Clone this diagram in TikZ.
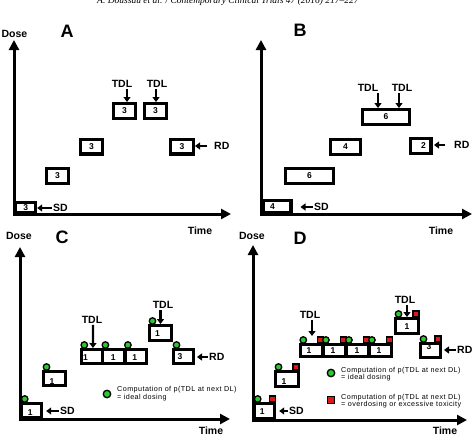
\documentclass[tikz,border=0pt]{standalone}
\usepackage{fontspec}
\setmainfont{Liberation Sans}
\newfontfamily\hdrfont{Liberation Serif}
\newfontfamily\lgdfont[LetterSpace=6]{Liberation Sans}
\usetikzlibrary{arrows.meta}
\definecolor{dlgreen}{RGB}{45,200,45}
\definecolor{dlred}{RGB}{220,25,25}
\tikzset{
 axes/.style={line width=3pt,{Triangle[width=10pt,length=10pt]}-{Triangle[width=10pt,length=10pt]}},
 ptr/.style={line width=2.2pt,-{Triangle[width=7pt,length=5pt]}},
 cohort/.style 2 args={draw,line width=3.2pt,fill=white,inner sep=0pt,
  minimum width=#1,minimum height=#2,font=\bfseries\fontsize{8.5}{8.5}\selectfont},
 num/.style={inner sep=0pt,font=\bfseries\fontsize{8.5}{8.5}\selectfont},
 tag/.style={inner sep=1pt,font=\bfseries\fontsize{10.5}{10.5}\selectfont},
 ttl/.style={inner sep=0pt,font=\bfseries\fontsize{18}{18}\selectfont},
 gdot/.style={circle,draw,line width=1.3pt,fill=dlgreen,inner sep=0pt,minimum size=6.5pt},
 rsq/.style={draw,line width=1.3pt,fill=dlred,inner sep=0pt,minimum size=6pt},
 lgd/.style={anchor=west,inner sep=0pt,align=left,font=\lgdfont\fontsize{7.2}{7.5}\selectfont},
 hdr/.style={inner sep=0pt,font=\hdrfont\itshape\fontsize{9.5}{9.5}\selectfont}
}
\begin{document}
\begin{tikzpicture}[x=1pt,y=-1pt,line join=miter]
 \useasboundingbox (0,0) rectangle (474,439);
 \node[hdr,anchor=base west] (hdr) at (97,4) {A. Doussau et al. / Contemporary Clinical Trials 47 (2016) 217–227};
 % panel A
 \coordinate (oA) at (14,214); \coordinate (yA) at (14,40); \coordinate (xA) at (231,214);
 \draw[axes] (yA) -- (oA) -- (xA);
 \node[ttl] (pA) at (67,31) {A};
 \node[tag] (doseA) at (14.5,34) {Dose};
 \node[tag] (timeA) at (200,231) {Time};
 \node[cohort={19.8pt}{10pt}] (a1) at (25.7,207.5) {3};
 \node[cohort={21.8pt}{14.8pt}] (a2) at (57.5,176) {3};
 \node[cohort={21.8pt}{14.8pt}] (a3) at (91.5,146.5) {3};
 \node[cohort={21.8pt}{14.8pt}] (a4) at (124.5,111) {3};
 \node[cohort={21.8pt}{14.8pt}] (a5) at (155.5,111) {3};
 \node[cohort={22.8pt}{14.8pt}] (a6) at (182,146.5) {3};
 \node[tag] (tdlA1) at (122,84) {TDL};
 \node[tag] (tdlA2) at (157,84) {TDL};
 \draw[ptr] ([xshift=5pt]tdlA1.south) -- ([xshift=2.5pt]a4.north);
 \draw[ptr] ([xshift=-1pt]tdlA2.south) -- ([xshift=0.5pt]a5.north);
 \node[tag,anchor=west] (sdA) at (52,208) {SD};
 \draw[ptr] (sdA.west) -- (sdA.west -| a1.east);
 \node[tag,anchor=west] (rdA) at (213,146) {RD};
 \draw[ptr,shorten <=6pt] (rdA.west) -- (rdA.west -| a6.east);
 % panel B
 \coordinate (oB) at (261,214); \coordinate (yB) at (261,40); \coordinate (xB) at (472,214);
 \draw[axes] (yB) -- (oB) -- (xB);
 \node[ttl] (pB) at (300,30) {B};
 \node[tag] (timeB) at (441,231) {Time};
 \node[cohort={27.8pt}{12pt}] (b1) at (277,206.5) {};
 \node[num] (nb1) at ([xshift=-4.5pt]b1.center) {4};
 \node[cohort={47.8pt}{14.8pt}] (b2) at (309.5,176) {6};
 \node[cohort={29.8pt}{14.8pt}] (b3) at (345.5,147) {4};
 \node[cohort={46.8pt}{14.8pt}] (b4) at (386,117) {6};
 \node[cohort={20.8pt}{14.8pt}] (b5) at (420.5,146) {};
 \node[num] (nb5) at ([xshift=3pt]b5.center) {2};
 \node[tag] (tdlB1) at (368,88) {TDL};
 \node[tag] (tdlB2) at (402,88) {TDL};
 \draw[ptr] ([xshift=10pt]tdlB1.south) -- ([xshift=-8pt]b4.north);
 \draw[ptr] ([xshift=-3pt]tdlB2.south) -- ([xshift=13pt]b4.north);
 \node[tag,anchor=west] (sdB) at (313,207) {SD};
 \draw[ptr,shorten >=8pt] (sdB.west) -- (sdB.west -| b1.east);
 \node[tag,anchor=west] (rdB) at (453,145) {RD};
 \draw[ptr,shorten <=8pt,shorten >=1.5pt] (rdB.west) -- (rdB.west -| b5.east);
 % panel C
 \coordinate (oC) at (20,419); \coordinate (yC) at (20,247); \coordinate (xC) at (230,419);
 \draw[axes] (yC) -- (oC) -- (xC);
 \node[ttl] (pC) at (62,237) {C};
 \node[tag] (doseC) at (19,236) {Dose};
 \node[tag] (timeC) at (211,431) {Time};
 \node[cohort={19.8pt}{13.8pt}] (c1) at (31.7,410.5) {};
 \node[cohort={21.8pt}{13.8pt}] (c2) at (54.5,378.5) {};
 \node[cohort={21.1pt}{13.8pt}] (c3) at (91.95,356.5) {};
 \node[cohort={22.5pt}{13.8pt}] (c4) at (113.75,356.5) {};
 \node[cohort={21.6pt}{13.8pt}] (c5) at (135.8,356.5) {};
 \node[cohort={21.8pt}{14.8pt}] (c6) at (160.5,333) {};
 \node[cohort={19.8pt}{13.8pt}] (c7) at (183.5,356.5) {};
 \node[num] (nc1) at ([xshift=-1.5pt,yshift=-2pt]c1.center) {1};
 \node[num] (nc2) at ([xshift=-2.5pt,yshift=-3pt]c2.center) {1};
 \node[num] (nc3) at ([xshift=-6.5pt,yshift=-1pt]c3.center) {1};
 \node[num] (nc4) at ([xshift=-0.5pt,yshift=-1pt]c4.center) {1};
 \node[num] (nc5) at ([xshift=-1pt,yshift=-1pt]c5.center) {1};
 \node[num] (nc6) at ([xshift=-3pt,yshift=-1pt]c6.center) {1};
 \node[num] (nc7) at ([xshift=-3.5pt]c7.center) {3};
 \foreach \b in {c1,c2,c3,c4,c5,c6,c7}
  \node[gdot] (g\b) at ([xshift=4.5pt,yshift=3pt]\b.north west) {};
 \node[tag] (tdlC1) at (92,320) {TDL};
 \node[tag] (tdlC2) at (163,305) {TDL};
 \draw[ptr] ([xshift=1pt]tdlC1.south) -- ([xshift=1pt]c3.north);
 \draw[ptr] ([xshift=-2.5pt]tdlC2.south) -- (c6.north);
 \node[tag,anchor=west] (sdC) at (59,411) {SD};
 \draw[ptr,shorten >=3pt] (sdC.west) -- (sdC.west -| c1.east);
 \node[tag,anchor=west] (rdC) at (208,357) {RD};
 \draw[ptr,shorten >=2pt] (rdC.west) -- (rdC.west -| c7.east);
 \node[gdot,minimum size=7.5pt] (lgC) at (107,394) {};
 \node[lgd] (lgtC) at (117,393.5) {Computation of p(TDL at next DL)\\= ideal dosing};
 % panel D
 \coordinate (oD) at (253,420); \coordinate (yD) at (253,245); \coordinate (xD) at (467,420);
 \draw[axes] (yD) -- (oD) -- (xD);
 \node[ttl] (pD) at (300,238) {D};
 \node[tag] (doseD) at (252,236) {Dose};
 \node[tag] (timeD) at (445,431) {Time};
 \node[cohort={19.8pt}{14.8pt}] (d1) at (264.7,411) {};
 \node[cohort={22.8pt}{14.8pt}] (d2) at (287,379) {};
 \node[cohort={22.6pt}{11.8pt}] (d3) at (311.7,350.5) {};
 \node[cohort={23pt}{11.8pt}] (d4) at (334.5,350.5) {};
 \node[cohort={23pt}{11.8pt}] (d5) at (357.5,350.5) {};
 \node[cohort={22.6pt}{11.8pt}] (d6) at (380.3,350.5) {};
 \node[cohort={22.8pt}{14.8pt}] (d7) at (407,326) {};
 \node[cohort={19.8pt}{13.8pt}] (d8) at (430.5,350.5) {};
 \node[num] (nd1) at ([xshift=-2.5pt,yshift=-1pt]d1.center) {1};
 \node[num] (nd2) at ([xshift=-3pt,yshift=-3pt]d2.center) {1};
 \node[num] (nd3) at ([xshift=-2.7pt]d3.center) {1};
 \node[num] (nd4) at ([xshift=-1.5pt]d4.center) {1};
 \node[num] (nd5) at ([xshift=-0.5pt]d5.center) {1};
 \node[num] (nd6) at ([xshift=-1.3pt]d6.center) {1};
 \node[num] (nd7) at ([yshift=-1pt]d7.center) {1};
 \node[num] (nd8) at ([xshift=-1.5pt,yshift=4pt]d8.center) {3};
 \foreach \i in {1,...,8}{
  \node[gdot] (gd\i) at ([xshift=4.5pt,yshift=3pt]d\i.north west) {};
  \node[rsq] (rd\i) at ([xshift=-4pt,yshift=3pt]d\i.north east) {};
 }
 \node[tag] (tdlD1) at (310,315) {TDL};
 \node[tag] (tdlD2) at (405,300) {TDL};
 \draw[ptr,shorten >=7pt] ([xshift=2pt]tdlD1.south) -- ([xshift=0.3pt]d3.north);
 \draw[ptr] ([xshift=2pt]tdlD2.south) -- (d7.north);
 \node[tag,anchor=west] (sdD) at (288,411) {SD};
 \draw[ptr,shorten >=3pt] (sdD.west) -- (sdD.west -| d1.east);
 \node[tag,anchor=west] (rdD) at (456,350) {RD};
 \draw[ptr,shorten >=2pt] (rdD.west) -- (rdD.west -| d8.east);
 \node[gdot,minimum size=7.5pt] (lgD1) at (331,373) {};
 \node[lgd] (lgtD1) at (341,374) {Computation of p(TDL at next DL)\\= ideal dosing};
 \node[rsq,minimum size=7pt] (lgD2) at (331,400) {};
 \node[lgd] (lgtD2) at (341,401) {Computation of p(TDL at next DL)\\= overdosing or excessive toxicity};
\end{tikzpicture}
\end{document}
